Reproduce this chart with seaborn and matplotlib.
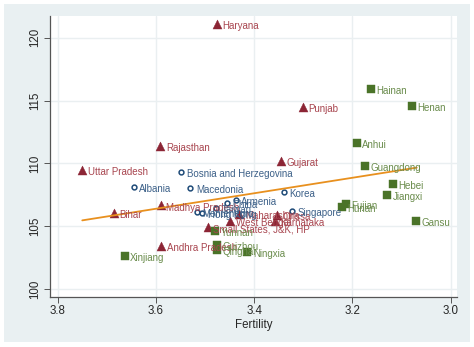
import matplotlib
matplotlib.use("Agg")
import matplotlib.pyplot as plt
import seaborn as sns
import pandas as pd
from matplotlib.patches import Rectangle

# ---- data ----
india_names = ["Haryana", "Punjab", "Rajasthan", "Gujarat", "Uttar Pradesh",
               "Madhya Pradesh", "Bihar", "Andhra Pradesh", "Small States, J&K, HP",
               "West Bengal", "Karnataka", "Maharashtra", "Orissa"]
india_fert = [3.476, 3.301, 3.591, 3.346, 3.750, 3.590, 3.686, 3.589, 3.495,
              3.449, 3.358, 3.430, 3.354]
india_srb = [121.1, 114.5, 111.35, 110.2, 109.5, 106.65, 106.05, 103.4, 104.9,
             105.45, 105.38, 106.0, 105.9]

china_names = ["Hainan", "Henan", "Anhui", "Guangdong", "Hebei", "Jiangxi",
               "Fujian", "Hunan", "Gansu", "Yunnan", "Guizhou", "Qinghai",
               "Ningxia", "Xinjiang"]
china_fert = [3.163, 3.079, 3.191, 3.174, 3.117, 3.129, 3.213, 3.222, 3.071,
              3.480, 3.476, 3.476, 3.414, 3.664]
china_srb = [115.9, 114.6, 111.6, 109.8, 108.35, 107.45, 106.75, 106.55, 105.45,
             104.65, 103.5, 103.1, 102.95, 102.65]

country_names = ["Bosnia and Herzegovina", "Albania", "Macedonia", "Korea",
                 "Armenia", "China", "Taiwan", "Montenegro", "Hong Kong",
                 "Singapore"]
country_fert = [3.548, 3.645, 3.530, 3.339, 3.438, 3.456, 3.478, 3.517, 3.506,
                3.322]
country_srb = [109.35, 108.12, 108.04, 107.72, 107.06, 106.84, 106.42, 106.1,
               106.07, 106.18]

fit_fert = [3.750, 3.069]
fit_srb = [105.46, 109.66]

x_ticks = [3.8, 3.6, 3.4, 3.2, 3.0]
x_ticklabels = ["3.8", "3.6", "3.4", "3.2", "3.0"]
y_ticks = [100, 105, 110, 115, 120]
y_ticklabels = ["100", "105", "110", "115", "120"]

# ---- style ----
sns.set_style("white")
plt.rcParams["font.family"] = ["Liberation Sans", "DejaVu Sans"]

W, H = 474, 347
fig = plt.figure(figsize=(W / 100, H / 100), dpi=100)
fig.patch.set_facecolor("white")
fig.add_artist(Rectangle((4 / W, 1 - 342 / H), 466 / W, 338 / H,
                         transform=fig.transFigure, facecolor="#e9f0f2",
                         edgecolor="none", zorder=-10))
ax = fig.add_axes([50 / W, 1 - 297 / H, 407 / W, 281 / H])
ax.set_zorder(1)
ax.set_facecolor("white")

india = pd.DataFrame({"name": india_names, "fert": india_fert, "srb": india_srb})
china = pd.DataFrame({"name": china_names, "fert": china_fert, "srb": china_srb})
ctry = pd.DataFrame({"name": country_names, "fert": country_fert, "srb": country_srb})
fit = pd.DataFrame({"fert": fit_fert, "srb": fit_srb})

red_m, red_t = "#8c2535", "#a8454f"
grn_m, grn_t = "#4a7328", "#6a8c4c"
blu_m, blu_t = "#1f4b78", "#3c6088"

sns.scatterplot(data=india, x="fert", y="srb", marker="^", s=42, color=red_m,
                edgecolor=red_m, linewidth=0.3, ax=ax, zorder=3)
sns.scatterplot(data=china, x="fert", y="srb", marker="s", s=30, color=grn_m,
                edgecolor=grn_m, linewidth=0.3, ax=ax, zorder=3)
sns.scatterplot(data=ctry, x="fert", y="srb", marker="o", s=12, color="white",
                edgecolor=blu_m, linewidth=1.1, ax=ax, zorder=3)
sns.lineplot(data=fit, x="fert", y="srb", color="#e8901e", linewidth=1.3,
             ax=ax, zorder=4)

fs = 7.0
for df, col in [(india, red_t), (china, grn_t), (ctry, blu_t)]:
    for _, r in df.iterrows():
        ax.annotate(r["name"], (r["fert"], r["srb"]), xytext=(4, -1.5),
                    textcoords="offset points", fontsize=fs, color=col,
                    va="center", ha="left", zorder=5)

ax.set_xlim(3.8157, 2.987)
ax.set_ylim(99.36, 121.73)
ax.set_xticks(x_ticks)
ax.set_xticklabels(x_ticklabels)
ax.set_yticks(y_ticks)
ax.set_yticklabels(y_ticklabels, rotation=90, va="center")
ax.set_xlabel("Fertility", fontsize=8.3, labelpad=1)
ax.set_ylabel("")
ax.tick_params(axis="both", labelsize=8.3, length=4, width=0.7,
               color="#555555", direction="out", pad=2,
               bottom=True, left=True)
ax.grid(True, color="#eaeff1", linewidth=1.0)
ax.set_axisbelow(True)
for s in ["top", "right"]:
    ax.spines[s].set_visible(False)
for s in ["left", "bottom"]:
    ax.spines[s].set_color("#555555")
    ax.spines[s].set_linewidth(0.9)

fig.savefig("out.png", dpi=100, facecolor=fig.get_facecolor())
